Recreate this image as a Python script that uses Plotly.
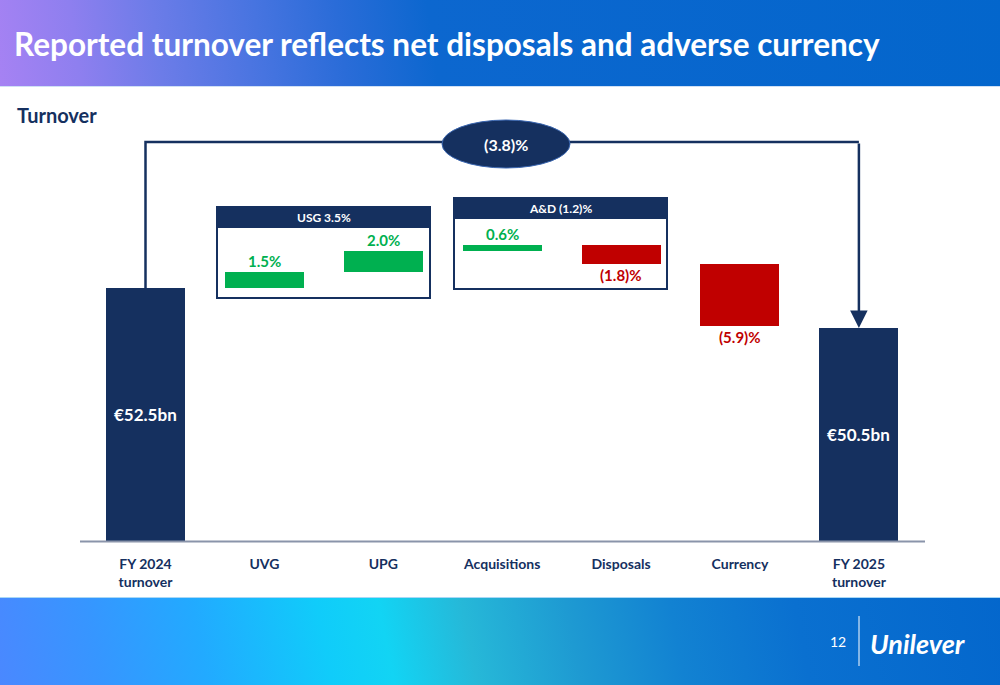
import base64
import plotly.graph_objects as go

# ---------------- data ----------------
categories = ["FY 2024<br>turnover", "UVG", "UPG", "Acquisitions", "Disposals", "Currency", "FY 2025<br>turnover"]
start_label = "€52.5bn"
end_label = "€50.5bn"
start_index = 100.0              # FY 2024 turnover indexed to 100
delta_pct = [1.5, 2.0, 0.6, -1.8, -5.9]   # UVG, UPG, Acquisitions, Disposals, Currency
total_change_pct = -3.8
usg_label = "USG 3.5%"
ad_label = "A&D (1.2)%"
title_text = "Reported turnover reflects net disposals and adverse currency"
subtitle_text = "Turnover"

# ---------------- style ----------------
W, H = 1000, 685
NAVY = "#15305f"
GREEN = "#00b050"
RED = "#c00000"
FONT = "Lato"


def px(x):
    return x / W


def py(y):
    return 1 - y / H


# vertical scale: pixels per percentage point (the deltas are magnified on the slide)
PPU = 10.5
BASE_PX, TOP_PX, START_TOP_PX = 541, 101, 288
y_lo = start_index - (BASE_PX - START_TOP_PX) / PPU
y_hi = start_index + (START_TOP_PX - TOP_PX) / PPU

# ---------------- bars ----------------
bases, heights, colors = [0.0], [start_index], [NAVY]
level = start_index
for d in delta_pct:
    bases.append(level if d > 0 else level + d)
    heights.append(abs(d))
    colors.append(GREEN if d > 0 else RED)
    level += d
end_index = start_index + total_change_pct
bases.append(0.0)
heights.append(end_index)
colors.append(NAVY)

fig = go.Figure()
fig.add_trace(go.Bar(
    x=categories, y=heights, base=bases, marker=dict(color=colors, line=dict(width=0)),
    width=0.664, hoverinfo="skip", showlegend=False,
))

annotations = []
# delta labels
for i, d in enumerate(delta_pct):
    cat = categories[i + 1]
    if d > 0:
        txt = f"{d:.1f}%"
        annotations.append(dict(x=cat, y=bases[i + 1] + heights[i + 1], xref="x", yref="y", text=txt,
                                showarrow=False, xanchor="center", yanchor="bottom", yshift=0,
                                font=dict(family=FONT, size=15, color=GREEN, weight=700)))
    else:
        txt = f"({abs(d):.1f})%"
        annotations.append(dict(x=cat, y=bases[i + 1], xref="x", yref="y", text=txt,
                                showarrow=False, xanchor="center", yanchor="top", yshift=0,
                                font=dict(family=FONT, size=15, color=RED, weight=700)))
# total labels
for cat, val, lab in [(categories[0], start_index, start_label), (categories[-1], end_index, end_label)]:
    annotations.append(dict(x=cat, y=(y_lo + val) / 2, xref="x", yref="y", text=lab, showarrow=False,
                            xanchor="center", yanchor="middle",
                            font=dict(family=FONT, size=17, color="white", weight=700)))

# bracket with overall change
bracket_y = start_index + (START_TOP_PX - 142) / PPU
shapes = []
shapes.append(dict(type="path", xref="x", yref="y",
                   path=f"M 0,{start_index} L 0,{bracket_y} L 6,{bracket_y}",
                   line=dict(color=NAVY, width=2.5), layer="above"))
annotations.append(dict(x=6, y=end_index, xref="x", yref="y", ax=6, ay=bracket_y, axref="x", ayref="y",
                        showarrow=True, arrowhead=2, arrowsize=1.4, arrowwidth=2.5, arrowcolor=NAVY,
                        standoff=0, text=""))
shapes.append(dict(type="circle", xref="paper", yref="paper", x0=px(442), x1=px(570), y0=py(168), y1=py(120),
                   fillcolor=NAVY, line=dict(color="#3a66b0", width=1), layer="above"))
annotations.append(dict(x=px(506), y=py(144), xref="paper", yref="paper", showarrow=False,
                        xanchor="center", yanchor="middle",
                        text=f"({abs(total_change_pct):.1f})%",
                        font=dict(family=FONT, size=16, color="white", weight=700)))

# group boxes
for (x0, x1, y0, y1, lab) in [(217, 430, 207, 298, usg_label), (454, 667, 198, 289, ad_label)]:
    shapes.append(dict(type="rect", xref="paper", yref="paper", x0=px(x0), x1=px(x1), y0=py(y1), y1=py(y0),
                       line=dict(color=NAVY, width=2), fillcolor="rgba(0,0,0,0)", layer="below"))
    shapes.append(dict(type="rect", xref="paper", yref="paper", x0=px(x0), x1=px(x1), y0=py(y0 + 21), y1=py(y0),
                       line=dict(width=0), fillcolor=NAVY, layer="below"))
    annotations.append(dict(x=px((x0 + x1) / 2), y=py(y0 + 10.5), xref="paper", yref="paper", showarrow=False,
                            xanchor="center", yanchor="middle",
                            text=lab, font=dict(family=FONT, size=12, color="white", weight=700)))

# axis baseline
shapes.append(dict(type="line", xref="paper", yref="paper", x0=px(80), x1=px(925), y0=py(541.5), y1=py(541.5),
                   line=dict(color="#8a94aa", width=2), layer="above"))


# banners (gradients)
def grad_svg(w, h, stops, vec):
    st = "".join(f'<stop offset="{o}" stop-color="{c}"/>' for o, c in stops)
    return (f'<svg xmlns="http://www.w3.org/2000/svg" width="{w}" height="{h}" viewBox="0 0 {w} {h}" '
            f'preserveAspectRatio="none"><defs><linearGradient id="g" gradientUnits="userSpaceOnUse" '
            f'x1="{vec[0]}" y1="{vec[1]}" x2="{vec[2]}" y2="{vec[3]}">{st}</linearGradient></defs>'
            f'<rect width="{w}" height="{h}" fill="url(#g)"/></svg>')


top_svg = grad_svg(1000, 86, [(0, "#a682f3"), (0.08, "#8e7fef"), (0.16, "#6c7ce8"), (0.26, "#4774e0"),
                              (0.34, "#2a6cd8"), (0.43, "#0c67cf"), (1, "#0366cc")], (0, 86, 1000, -60))
bot_svg = grad_svg(1000, 88, [(0, "#4a88ff"), (0.1, "#3696ff"), (0.2, "#22aaff"), (0.32, "#10ccfa"),
                              (0.38, "#12d4f4"), (0.46, "#26b8d8"), (0.56, "#1e9ad2"), (0.66, "#1282d2"),
                              (0.78, "#0a70d0"), (1, "#0366cc")], (0, 88, 1000, -110))


def data_uri(svg):
    return "data:image/svg+xml;base64," + base64.b64encode(svg.encode()).decode()


images = [
    dict(source=data_uri(top_svg), xref="paper", yref="paper", x=0, y=1, sizex=1, sizey=86 / H,
         xanchor="left", yanchor="top", sizing="stretch", layer="below"),
    dict(source=data_uri(bot_svg), xref="paper", yref="paper", x=0, y=py(597), sizex=1, sizey=88 / H,
         xanchor="left", yanchor="top", sizing="stretch", layer="below"),
]
shapes.append(dict(type="line", xref="paper", yref="paper", x0=0, x1=1, y0=py(86.5), y1=py(86.5),
                   line=dict(color="#cfe0f5", width=1)))
shapes.append(dict(type="line", xref="paper", yref="paper", x0=0, x1=1, y0=py(597.5), y1=py(597.5),
                   line=dict(color="#a9d8f6", width=1)))
shapes.append(dict(type="line", xref="paper", yref="paper", x0=px(859), x1=px(859), y0=py(666), y1=py(616),
                   line=dict(color="white", width=1)))

annotations += [
    dict(x=px(12), y=py(44), xref="paper", yref="paper", xanchor="left", yanchor="middle", showarrow=False,
         text=title_text, font=dict(family=FONT, size=31.5, color="white", weight=700)),
    dict(x=px(15), y=py(115), xref="paper", yref="paper", xanchor="left", yanchor="middle", showarrow=False,
         text=subtitle_text, font=dict(family=FONT, size=20, color=NAVY, weight=700)),
    dict(x=px(848), y=py(641), xref="paper", yref="paper", xanchor="right", yanchor="middle", showarrow=False,
         text="12", font=dict(family=FONT, size=14, color="white")),
    dict(x=px(868), y=py(643), xref="paper", yref="paper", xanchor="left", yanchor="middle", showarrow=False,
         text="<i>Unilever</i>", font=dict(family=FONT, size=27, color="white", weight=700)),
]

fig.update_layout(
    width=W, height=H, margin=dict(l=0, r=0, t=0, b=0),
    paper_bgcolor="white", plot_bgcolor="rgba(0,0,0,0)",
    xaxis=dict(domain=[px(86.05), px(918.35)], range=[-0.5, 6.5], showgrid=False, zeroline=False,
               showline=False, ticks="", ticklabelstandoff=13,
               tickfont=dict(family=FONT, size=14, color=NAVY, weight=700), fixedrange=True),
    yaxis=dict(domain=[py(BASE_PX), py(TOP_PX)], range=[y_lo, y_hi], visible=False, fixedrange=True),
    shapes=shapes, annotations=annotations, images=images, bargap=0,
)

fig.write_html("out.html")
